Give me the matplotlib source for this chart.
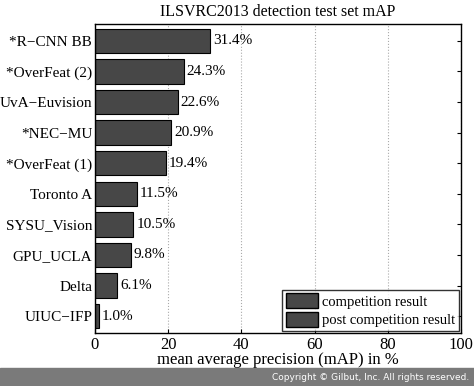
import matplotlib
matplotlib.use('Agg')
import matplotlib.pyplot as plt
from matplotlib.patches import Patch, Rectangle

# ---------- data ----------
methods = ['*R\u2212CNN BB', '*OverFeat (2)', 'UvA\u2212Euvision', '*NEC\u2212MU', '*OverFeat (1)',
           'Toronto A', 'SYSU_Vision', 'GPU_UCLA', 'Delta', 'UIUC\u2212IFP']
mAP = [31.4, 24.3, 22.6, 20.9, 19.4, 11.5, 10.5, 9.8, 6.1, 1.0]
xticks = [0, 20, 40, 60, 80, 100]

plt.rcParams['font.family'] = ['Liberation Serif', 'DejaVu Serif']
bar_col = '#474747'

fig = plt.figure(figsize=(4.74, 3.86), dpi=100)
ax = fig.add_axes([0.2004, 0.1373, 0.7722, 0.8005])

pos = list(range(len(methods)))[::-1]
ax.barh(pos, mAP, height=0.8, color=bar_col, edgecolor='black', linewidth=0.8)
for p, v in zip(pos, mAP):
    ax.text(v + 0.8, p, f'{v:.1f}%', va='center', ha='left', fontsize=11)

ax.set_xlim(0, 100); ax.set_ylim(-0.55, 9.55)
ax.set_xticks(xticks)
ax.set_yticks(pos); ax.set_yticklabels(methods, fontsize=11)
ax.tick_params(axis='x', labelsize=12, direction='in', length=3, pad=3)
ax.tick_params(axis='y', direction='in', length=3, right=True, left=False, pad=2)
ax.xaxis.grid(True, linestyle=':', color='#aaaaaa', linewidth=0.8)
ax.set_axisbelow(True)
for s in ax.spines.values():
    s.set_linewidth(1.0)
ax.set_xlabel('mean average precision (mAP) in %', fontsize=12, labelpad=-1)
ax.set_title('ILSVRC2013 detection test set mAP', fontsize=11.5, pad=6)

handles = [Patch(facecolor=bar_col, edgecolor='black'), Patch(facecolor=bar_col, edgecolor='black')]
leg = ax.legend(handles, ['competition result', 'post competition result'], loc='lower right',
                fontsize=10.5, frameon=True, fancybox=False, edgecolor='black',
                borderaxespad=0.15, handlelength=2.2, handleheight=1.2, handletextpad=0.3,
                labelspacing=0.2, borderpad=0.25)
leg.get_frame().set_linewidth(1.0)

# copyright band at the bottom
fig.patches.append(Rectangle((0, 0), 1, 0.047, transform=fig.transFigure, color='#7a7a7a', zorder=0))
fig.text(0.99, 0.022, 'Copyright \u00a9 Gilbut, Inc. All rights reserved.', ha='right', va='center',
         fontsize=6.5, color='white', family='DejaVu Sans')

fig.savefig('out.png', dpi=100)
